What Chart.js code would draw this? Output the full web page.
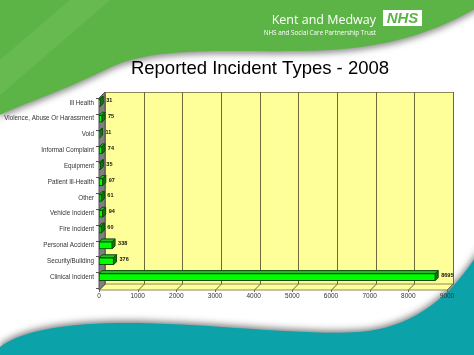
<!DOCTYPE html>
<html>
<head>
<meta charset="utf-8">
<title>Reported Incident Types - 2008</title>
<script src="https://cdn.jsdelivr.net/npm/chart.js@4.4.1/dist/chart.umd.min.js"></script>
<style>
  html, body { margin: 0; padding: 0; background: #fff; }
  #wrap { width: 474px; height: 355px; position: relative; }
</style>
</head>
<body>
<div id="wrap"><canvas id="incidentChart" width="474" height="355"></canvas></div>
<script>
// data
const categories = [
  "Ill Health", "Violence, Abuse Or Harassment", "Void", "Informal Complaint",
  "Equipment", "Patient Ill-Health", "Other", "Vehicle Incident",
  "Fire Incident", "Personal Accident", "Security/Building", "Clinical Incident"
];
const incidents = [31, 75, 11, 74, 35, 97, 61, 94, 60, 338, 376, 8695];
const xMin = 0;
const xMax = 9000;
const xStep = 1000;

const DX = 6, DY = 6; // 3d depth of the walls

// slide background: green header, teal swoosh, titles
const slidePlugin = {
  id: "slide",
  beforeDraw(chart) {
    const ctx = chart.ctx;
    ctx.save();
    ctx.fillStyle = "#fff";
    ctx.fillRect(0, 0, chart.width, chart.height);

    // teal bottom
    ctx.save();
    ctx.shadowColor = "rgba(60,60,60,0.7)";
    ctx.shadowBlur = 7;
    ctx.shadowOffsetY = -2;
    ctx.fillStyle = "#0ca2aa";
    ctx.beginPath();
    ctx.moveTo(0, 360);
    ctx.lineTo(0, 347);
    ctx.bezierCurveTo(20, 332, 60, 324, 117, 323);
    ctx.bezierCurveTo(200, 322, 300, 336, 360, 332);
    ctx.bezierCurveTo(410, 328, 450, 300, 480, 250);
    ctx.lineTo(480, 360);
    ctx.closePath();
    ctx.fill();
    ctx.restore();

    // green header
    ctx.save();
    ctx.shadowColor = "rgba(70,70,70,0.6)";
    ctx.shadowBlur = 6;
    ctx.shadowOffsetY = 3;
    ctx.fillStyle = "#5db446";
    ctx.beginPath();
    ctx.moveTo(0, -5);
    ctx.lineTo(480, -5);
    ctx.lineTo(480, 6);
    ctx.bezierCurveTo(430, 35, 380, 50, 300, 51);
    ctx.bezierCurveTo(220, 52, 150, 46, 105, 70);
    ctx.bezierCurveTo(60, 92, 20, 105, 0, 115);
    ctx.closePath();
    ctx.fill();
    ctx.restore();

    // lighter stripe top-left
    ctx.fillStyle = "rgba(150,215,120,0.18)";
    ctx.beginPath();
    ctx.moveTo(0, 60);
    ctx.lineTo(70, 0);
    ctx.lineTo(110, 0);
    ctx.lineTo(0, 95);
    ctx.closePath();
    ctx.fill();

    // trust name + logo
    ctx.fillStyle = "#fff";
    ctx.textBaseline = "middle";
    ctx.textAlign = "right";
    ctx.font = "12.5px 'Open Sans', sans-serif";
    ctx.fillText("Kent and Medway", 376, 20);
    ctx.font = "6.3px 'Open Sans', sans-serif";
    ctx.fillText("NHS and Social Care Partnership Trust", 376, 33);
    ctx.fillRect(383, 10, 39, 16);
    ctx.fillStyle = "#5db446";
    ctx.textAlign = "center";
    ctx.font = "italic bold 15px 'Liberation Sans', Arial, sans-serif";
    ctx.fillText("NHS", 402.5, 18.5);

    // slide title
    ctx.fillStyle = "#000";
    ctx.font = "18.5px 'Liberation Sans', Arial, sans-serif";
    ctx.fillText("Reported Incident Types - 2008", 260, 69);
    ctx.restore();
  }
};

// 3d walls, grid and bar depth faces
const wallsPlugin = {
  id: "walls",
  beforeDatasetsDraw(chart) {
    const ctx = chart.ctx;
    const a = chart.chartArea;
    const xs = chart.scales.x;
    const fTop = a.top + 3, fBot = a.bottom + 5;
    const bTop = fTop - DY, bBot = fBot - DY;
    const l = a.left, r = a.right;
    ctx.save();
    // back wall
    ctx.fillStyle = "#ffff99";
    ctx.fillRect(l + DX, bTop, r - l, bBot - bTop);
    ctx.strokeStyle = "#8a8a55";
    ctx.lineWidth = 1;
    ctx.strokeRect(l + DX + 0.5, bTop + 0.5, r - l, bBot - bTop);
    // floor
    ctx.beginPath();
    ctx.moveTo(l, fBot);
    ctx.lineTo(l + DX, bBot);
    ctx.lineTo(r + DX, bBot);
    ctx.lineTo(r, fBot);
    ctx.closePath();
    ctx.fillStyle = "#ffff99";
    ctx.fill();
    ctx.stroke();
    // left wall
    ctx.beginPath();
    ctx.moveTo(l, fTop);
    ctx.lineTo(l + DX, bTop);
    ctx.lineTo(l + DX, bBot);
    ctx.lineTo(l, fBot);
    ctx.closePath();
    ctx.fillStyle = "#7f7f7f";
    ctx.fill();
    ctx.strokeStyle = "#555";
    ctx.stroke();
    // grid lines + floor ticks
    ctx.strokeStyle = "#6b6b3a";
    for (let v = xMin; v <= xMax; v += xStep) {
      const px = Math.round(xs.getPixelForValue(v)) + 0.5;
      if (v > xMin) {
        ctx.beginPath();
        ctx.moveTo(px + DX, bTop);
        ctx.lineTo(px + DX, bBot);
        ctx.stroke();
      }
      ctx.beginPath();
      ctx.moveTo(px + DX, bBot);
      ctx.lineTo(px, fBot);
      ctx.lineTo(px, fBot + 2);
      ctx.stroke();
    }
    // left axis ticks
    ctx.strokeStyle = "#555";
    const ys = chart.scales.y;
    for (let i = 0; i <= categories.length; i++) {
      const py = Math.round(ys.top + i * (ys.bottom - ys.top) / categories.length) + 0.5;
      ctx.beginPath();
      ctx.moveTo(l - 3, py + 3);
      ctx.lineTo(l, py + 3);
      ctx.stroke();
    }

    // bar top and side faces
    const meta = chart.getDatasetMeta(0);
    const d = 3;
    meta.data.forEach(bar => {
      const x0 = bar.base, x1 = bar.x;
      const y0 = bar.y - bar.height / 2, y1 = bar.y + bar.height / 2;
      ctx.beginPath();
      ctx.moveTo(x0, y0);
      ctx.lineTo(x0 + d, y0 - d);
      ctx.lineTo(x1 + d, y0 - d);
      ctx.lineTo(x1, y0);
      ctx.closePath();
      ctx.fillStyle = "#22c022";
      ctx.fill();
      ctx.strokeStyle = "#0b4d0b";
      ctx.stroke();
      ctx.beginPath();
      ctx.moveTo(x1, y0);
      ctx.lineTo(x1 + d, y0 - d);
      ctx.lineTo(x1 + d, y1 - d);
      ctx.lineTo(x1, y1);
      ctx.closePath();
      ctx.fillStyle = "#0a7a0a";
      ctx.fill();
      ctx.stroke();
    });
    ctx.restore();
  },
  afterDatasetsDraw(chart) {
    const ctx = chart.ctx;
    const meta = chart.getDatasetMeta(0);
    ctx.save();
    ctx.fillStyle = "#111";
    ctx.font = "bold 5.5px 'Liberation Sans', Arial, sans-serif";
    ctx.textBaseline = "middle";
    ctx.textAlign = "left";
    meta.data.forEach((bar, i) => {
      ctx.fillText(String(incidents[i]), bar.x + 6, bar.y - 2);
    });
    ctx.restore();
  }
};

new Chart(document.getElementById("incidentChart"), {
  type: "bar",
  data: {
    labels: categories,
    datasets: [{
      data: incidents,
      backgroundColor: "#00ff00",
      borderColor: "#0b4d0b",
      borderWidth: 1,
      borderSkipped: false,
      barThickness: 7
    }]
  },
  options: {
    indexAxis: "y",
    responsive: false,
    animation: false,
    devicePixelRatio: 1,
    layout: { padding: { left: 0, top: 95, right: 27, bottom: 56 } },
    plugins: {
      legend: { display: false },
      title: { display: false },
      tooltip: { enabled: false }
    },
    scales: {
      x: {
        min: xMin,
        max: xMax,
        ticks: {
          stepSize: xStep,
          padding: 7,
          color: "#333",
          font: { size: 6.5, family: "'Liberation Sans', Arial, sans-serif" },
          callback: v => String(v)
        },
        grid: { display: false, drawTicks: false },
        border: { display: false },
        afterFit(scale) { scale.height = 14; }
      },
      y: {
        ticks: {
          padding: 5,
          color: "#333",
          font: { size: 6.3, family: "'Liberation Sans', Arial, sans-serif" }
        },
        grid: { display: false, drawTicks: false },
        border: { display: false },
        afterFit(scale) { scale.width = 99; }
      }
    }
  },
  plugins: [slidePlugin, wallsPlugin]
});
</script>
</body>
</html>
